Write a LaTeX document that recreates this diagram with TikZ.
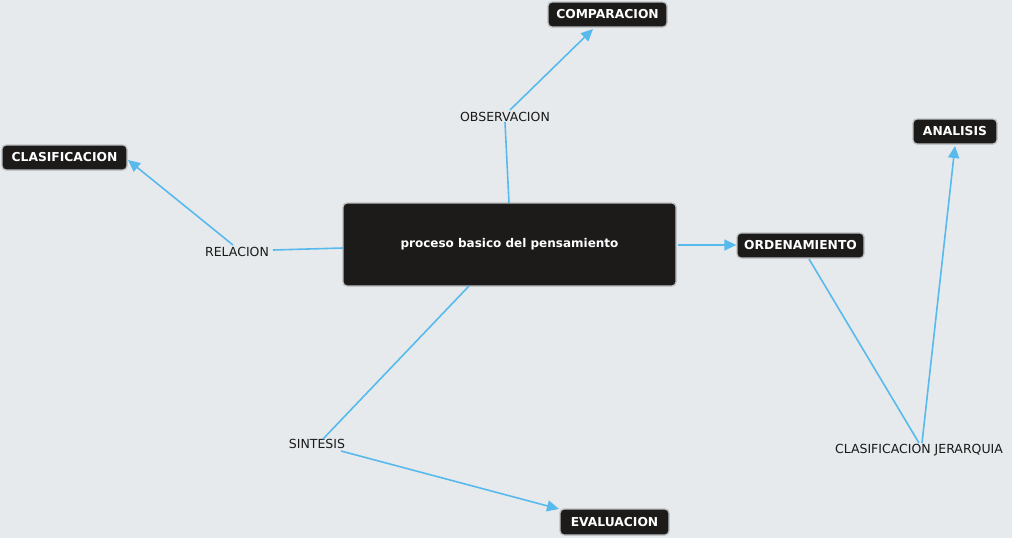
\documentclass[tikz,border=0pt]{standalone}
\usepackage{fontspec}
\setmainfont{DejaVu Sans}
\usetikzlibrary{arrows.meta}
\definecolor{bg}{RGB}{230,234,236}
\definecolor{boxfill}{RGB}{28,27,26}
\definecolor{boxline}{RGB}{190,192,194}
\definecolor{link}{RGB}{88,186,236}
\tikzset{
  concept/.style={draw=boxline, line width=1.3pt, fill=boxfill, rounded corners=4pt, text=white,
    font=\fontsize{12.3}{14}\selectfont\bfseries, inner sep=0pt, align=center},
  lbl/.style={font=\fontsize{12.5}{14}\selectfont, text=black!90, inner sep=1pt},
  link/.style={draw=link, line width=1.6pt},
  linkarrow/.style={link, -{Triangle[length=12pt,width=11pt]}},
}
\begin{document}
\begin{tikzpicture}[x=1pt,y=-1pt]
\fill[bg] (0,0) rectangle (1012,538);
\useasboundingbox (0,0) rectangle (1012,538);

% concept boxes
\node[concept, minimum width=333pt, minimum height=83pt] (center) at (509.5,244.5) {\fontsize{12}{14}\selectfont proceso basico del pensamiento};
\node[concept, minimum width=119pt, minimum height=25pt] (comp) at (607.5,14.5) {\raisebox{-1pt}{COMPARACION}};
\node[concept, minimum width=125pt, minimum height=25pt] (clas) at (64.5,157.5) {\raisebox{-1pt}{CLASIFICACION}};
\node[concept, minimum width=84pt, minimum height=25pt] (anal) at (955,131.5) {\raisebox{-1pt}{ANALISIS}};
\node[concept, minimum width=127pt, minimum height=25pt] (orden) at (800.5,245.5) {\raisebox{-1pt}{ORDENAMIENTO}};
\node[concept, minimum width=109pt, minimum height=26pt] (eval) at (614.5,522) {\raisebox{-1pt}{EVALUACION}};

% link labels
\node[lbl] (obs) at (505,116.5) {OBSERVACION};
\node[lbl] (rel) at (237,252) {RELACION};
\node[lbl] (sint) at (317,444) {SINTESIS};
\node[lbl] (jer) at (919,450) {CLASIFICACION JERARQUIA};

% connection points on the labels
\coordinate (obsIn) at (505,122);
\coordinate (obsOut) at (510,110);
\coordinate (relIn) at (273,250);
\coordinate (relOut) at (233,245);
\coordinate (sintIn) at (323,439);
\coordinate (sintOut) at (341,451);
\coordinate (jerIn) at (919,443);
\coordinate (jerOut) at (922,443);
\coordinate (centerTop) at (509,203);
\coordinate (centerLeft) at (343,248);
\coordinate (centerBot) at (469,286);
\coordinate (centerRight) at (678,245);
\coordinate (ordBot) at (809,259);

% connectors
\draw[link] (centerTop) -- (obsIn);
\draw[linkarrow] (obsOut) -- (593,29);
\draw[link] (centerLeft) -- (relIn);
\draw[linkarrow] (relOut) -- (128,160);
\draw[linkarrow] (centerRight) -- (orden.west |- centerRight);
\draw[link] (centerBot) -- (sintIn);
\draw[linkarrow] (sintOut) -- (559,509);
\draw[link] (ordBot) -- (jerIn);
\draw[linkarrow] (jerOut) -- (955,146);
\end{tikzpicture}
\end{document}
